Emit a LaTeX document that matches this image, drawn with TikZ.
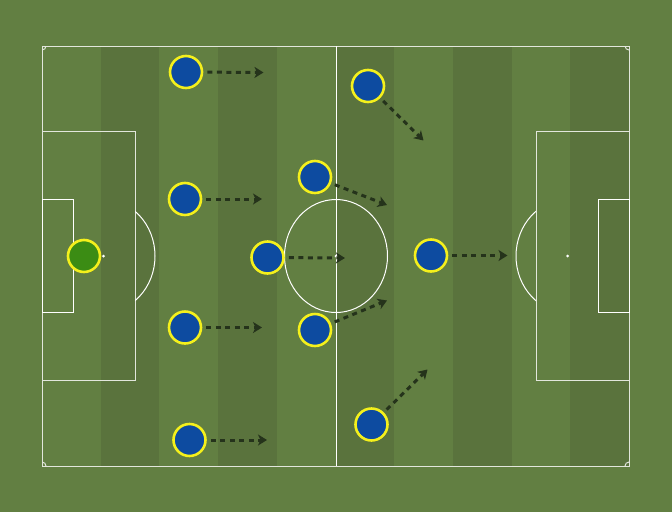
\documentclass[tikz,border=0pt]{standalone}
\usetikzlibrary{arrows.meta,shadows}
\definecolor{grass}{HTML}{627F42}
\definecolor{grassdark}{HTML}{5A733D}
\definecolor{pblue}{HTML}{0D4BA0}
\definecolor{pyellow}{HTML}{F4F01C}
\definecolor{kgreen}{HTML}{3B8C14}
\definecolor{runcol}{HTML}{25331B}
\definecolor{linegrey}{HTML}{E2E6DC}
\tikzset{
  player/.style={circle, minimum size=32pt, inner sep=0pt, fill=pblue, draw=pyellow, line width=2.6pt,
    drop shadow={shadow xshift=0.8pt, shadow yshift=-1.2pt, opacity=0.25, fill=black}},
  keeper/.style={player, fill=kgreen},
  run/.style={draw=runcol, line width=3pt, dash pattern=on 5pt off 4.5pt, shorten <=4pt,
    -{Stealth[length=9pt,width=11pt,inset=2.5pt]}},
  pline/.style={draw=linegrey, line width=1pt},
  wline/.style={draw=white, line width=1pt},
}
\begin{document}
\begin{tikzpicture}[x=1pt,y=-1pt]
\fill[grass] (0,0) rectangle (672,512);
\useasboundingbox (0,0) rectangle (672,512);
% stripes
\foreach \i in {1,3,5,7,9}
  \fill[grassdark] ({42+\i*58.7},46) rectangle ({42+(\i+1)*58.7},466);
% pitch outline
\draw[pline] (42,46) rectangle (629,466);
\draw[wline] (336,46) -- (336,466);
\draw[wline] (336,256) ellipse [x radius=51.5, y radius=56.5];
\fill[white] (336,256) circle (1.5);
% left areas
\draw[pline] (42,131) rectangle (135,380);
\draw[wline] (42,199) rectangle (73,312);
\fill[white] (103.5,256) circle (1.5);
\begin{scope}
  \clip (135,0) rectangle (300,512);
  \draw[wline] (103.5,256) ellipse [x radius=51.5, y radius=56.5];
\end{scope}
% right areas
\draw[pline] (536,131) rectangle (629,380);
\draw[wline] (598,199) rectangle (629,312);
\fill[white] (567.5,256) circle (1.5);
\begin{scope}
  \clip (372,0) rectangle (536,512);
  \draw[wline] (567.5,256) ellipse [x radius=51.5, y radius=56.5];
\end{scope}
% corner arcs
\begin{scope}
  \clip (42,46) rectangle (629,466);
  \foreach \cx/\cy in {42/46,629/46,42/466,629/466}
    \draw[pline] (\cx,\cy) circle (4);
\end{scope}
% players
\node[keeper] (gk) at (84,256) {};
\node[player] (p1) at (186,72) {};
\node[player] (p2) at (368,86) {};
\node[player] (p3) at (185,199) {};
\node[player] (p4) at (315,177) {};
\node[player] (p5) at (267.5,257.5) {};
\node[player] (p6) at (431,255.5) {};
\node[player] (p7) at (185,327.5) {};
\node[player] (p8) at (315,330) {};
\node[player] (p9) at (371.5,424.5) {};
\node[player] (p10) at (189.5,440) {};
% run targets
\coordinate (t1) at (263.5,72.5);
\coordinate (t2) at (423.5,140.5);
\coordinate (t3) at (262,199);
\coordinate (t4) at (387,205);
\coordinate (t5) at (345,258);
\coordinate (t6) at (507.5,255.5);
\coordinate (t7) at (262,327.5);
\coordinate (t8) at (387,300.5);
\coordinate (t9) at (427.5,369.5);
\coordinate (t10) at (267,440);
\foreach \k in {1,...,10}
  \draw[run] (p\k) -- (t\k);
\end{tikzpicture}
\end{document}
